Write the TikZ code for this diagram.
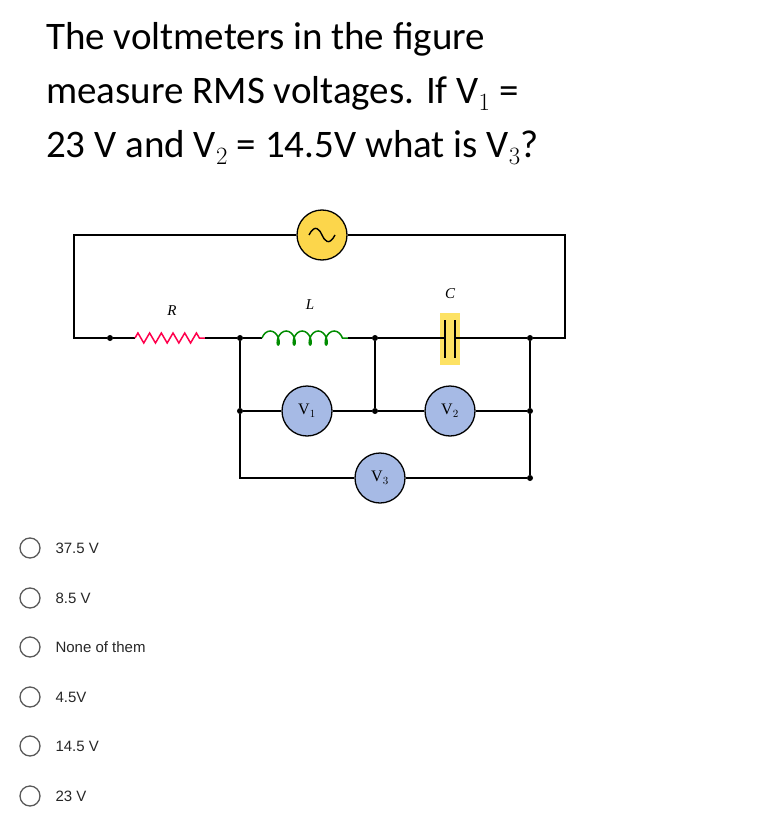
\documentclass[tikz,border=0pt]{standalone}
\usepackage{fontspec}
\setmainfont{Carlito}
\newfontfamily\optfont{Liberation Sans}
\usetikzlibrary{decorations.pathmorphing,calc}
\begin{document}
\begin{tikzpicture}[x=1pt,y=-1pt,
  wire/.style={line width=1.6pt,black},
  dotj/.style={circle,fill=black,inner sep=0pt,minimum size=6pt},
  meter/.style={circle,draw=black,line width=1.3pt,fill=cyan!45!blue!35,minimum size=50pt,inner sep=0pt,font=\fontspec{Liberation Serif}\fontsize{16}{16}\selectfont},
  opt/.style={circle,draw=black!65,line width=1.3pt,minimum size=20pt,inner sep=0pt},
  optlbl/.style={anchor=west,font=\optfont\fontsize{15}{15}\selectfont,text=black!85},
  lbl/.style={font=\fontspec{Liberation Serif}\itshape\fontsize{15}{15}\selectfont}]
\useasboundingbox (0,0) rectangle (769,824);
\node[anchor=north west,align=left,font=\fontsize{39}{54}\selectfont,inner sep=0pt] (title) at (46,22)
 {The voltmeters in the figure\\measure RMS voltages. If V$_1$ =\\23 V and V$_2$ = 14.5V what is V$_3$?};
% coordinates
\coordinate (tl) at (74,235); \coordinate (tr) at (565,235);
\coordinate (bl) at (74,338); \coordinate (br) at (565,338);
\node[dotj] (d0) at (110,338) {};
\node[dotj] (j1) at (240,338) {};
\node[dotj] (j2) at (375,338) {};
\node[dotj] (j3) at (530,338) {};
\node[dotj] (m1) at (240,411) {};
\node[dotj] (m2) at (375,411) {};
\node[dotj] (m3) at (530,411) {};
\coordinate (b1) at (240,478);
\node[dotj] (b3) at (530,478) {};
\node[circle,draw=black,line width=1.3pt,fill=yellow!60!orange!70,minimum size=50pt] (src) at (322,235) {};
\draw[line width=1.4pt] ($(src)+(-13,0)$) .. controls ($(src)+(-7,-12)$) and ($(src)+(-2,-5)$) .. (src.center) .. controls ($(src)+(2,5)$) and ($(src)+(7,12)$) .. ($(src)+(13,0)$);
\coordinate (ra) at (135,338); \coordinate (rb) at (205,338);
\coordinate (la) at (262,338); \coordinate (lb) at (348,338);
\coordinate (ca) at (445,338); \coordinate (cb) at (455,338);
\fill[yellow!70!orange!60] (440,313) rectangle (460,365);
\draw[wire] (src.west) -- (tl) -- (bl) -- (d0) -- (ra);
\draw[wire] (src.east) -- (tr) -- (br) -- (j3);
\draw[line width=1.5pt,red!70!magenta,decorate,decoration={zigzag,segment length=11.7pt,amplitude=5pt}] (ra) -- (rb);
\draw[wire] (rb) -- (j1) -- (la);
\draw[line width=1.5pt,green!55!black,decorate,decoration={coil,aspect=0.6,segment length=16pt,amplitude=7pt}] (la) -- (lb);
\draw[wire] (lb) -- (j2) -- (ca);
\draw[line width=1.8pt] (445,320) -- (445,358) (455,320) -- (455,358);
\draw[wire] (cb) -- (j3);
\node[meter] (v1) at (307,411) {V$_1$};
\node[meter] (v2) at (450,411) {V$_2$};
\node[meter] (v3) at (380,478) {V$_3$};
\draw[wire] (j1) -- (m1) -- (b1) -- (v3) -- (b3);
\draw[wire] (j2) -- (m2);
\draw[wire] (j3) -- (m3) -- (b3);
\draw[wire] (m1) -- (v1) -- (m2) -- (v2) -- (m3);
\node[lbl] (lR) at (172,311) {R};
\node[lbl] (lL) at (310,305) {L};
\node[lbl] (lC) at (450,294) {C};
\foreach \y/\t [count=\i] in {548/37.5 V,598/8.5 V,647/None of them,697/4.5V,746/14.5 V,796/23 V}{
  \node[opt] (o\i) at (30,\y) {};
  \node[optlbl] (t\i) at (52,\y) {\t};
}
\end{tikzpicture}
\end{document}
